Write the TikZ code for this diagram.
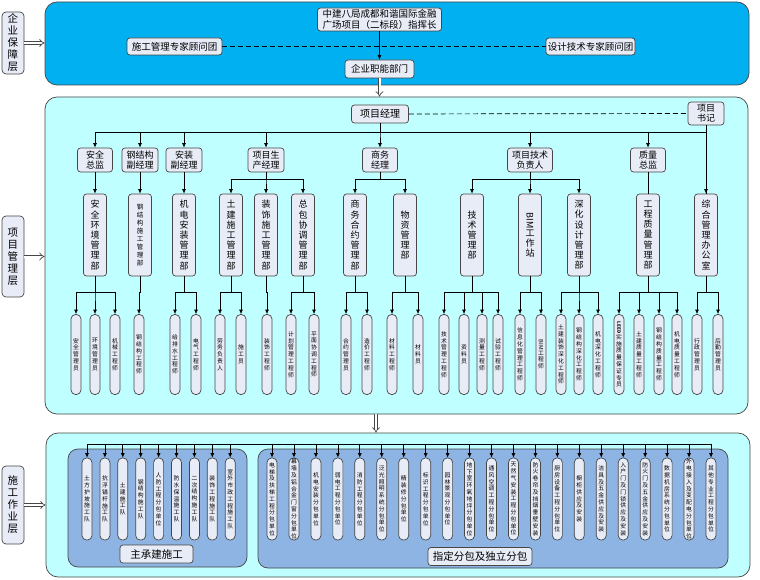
\documentclass[tikz,border=0pt]{standalone}
\usepackage{fontspec}
\setmainfont{Noto Sans CJK SC}
\usepackage{graphicx}
\usetikzlibrary{arrows.meta}
\definecolor{topblue}{RGB}{0,176,240}
\definecolor{midcyan}{RGB}{192,255,255}
\definecolor{grpblue}{RGB}{141,180,226}
\definecolor{boxfill}{RGB}{232,236,247}
\definecolor{edge}{RGB}{70,70,70}
\makeatletter
\newcommand\vtxt[1]{\vbox{\@tfor\vch:=#1\do{\hbox to 1em{\hss\vch\hss}}}}
\makeatother
\newcommand\bimr{\rotatebox{-90}{BIM}}
\newcommand\leedr{\rotatebox{-90}{\fontsize{4.5}{5}\selectfont\bfseries LEED}}
\tikzset{
  box/.style={draw=edge, fill=boxfill, rounded corners=3pt, align=center, inner sep=1.5pt, font=\fontsize{9.5}{10.5}\selectfont},
  mgr/.style={box, minimum width=35pt, minimum height=24pt, inner xsep=4.5pt, font=\fontsize{9}{10.5}\selectfont},
  dept/.style={box, minimum width=23pt, minimum height=82pt, inner sep=0pt, font=\fontsize{9}{10.2}\selectfont},
  pill/.style={box, rounded corners=4.5pt, minimum width=10pt, minimum height=80pt, inner sep=0pt, font=\fontsize{5.8}{6.8}\selectfont},
  layer/.style={draw=edge, fill=boxfill, rounded corners=4pt, minimum width=22pt, inner sep=0pt, font=\fontsize{10.5}{12}\selectfont},
  frame/.style={draw=edge, rounded corners=12pt, inner sep=0pt},
  feed/.style={draw=edge, line width=0.7pt, double=white, double distance=2pt, -{Implies}},
}
\begin{document}
\begin{tikzpicture}[x=1pt,y=-1pt,>={Latex[length=4.5pt,width=4pt]},line width=0.7pt]
\useasboundingbox (0,0) rectangle (760,580);
% layers
\node[frame,fill=topblue,minimum width=704pt,minimum height=83pt] (ent) at (397,43.5) {};
\node[frame,fill=midcyan,minimum width=703pt,minimum height=317pt] (mid) at (396.5,255.5) {};
\node[frame,fill=midcyan,minimum width=704pt,minimum height=144pt] (bot) at (398,505) {};
\node[frame,fill=grpblue,rounded corners=10pt,minimum width=179pt,minimum height=118pt] (main) at (157.5,508) {};
\node[frame,fill=grpblue,rounded corners=10pt,minimum width=470pt,minimum height=119pt] (subs) at (493,508.5) {};
\node[layer,minimum height=62pt] (lab1) at (13,43) {\vtxt{企业保障层}};
\node[layer,minimum height=81pt] (lab2) at (13,256.5) {\vtxt{项目管理层}};
\node[layer,minimum height=78pt] (lab3) at (13,505) {\vtxt{施工作业层}};
\draw[feed] (lab1) -- (lab1 -| ent.west);
\draw[feed] (lab2) -- (lab2 -| mid.west);
\draw[feed] (lab3) -- (lab3 -| bot.west);

% enterprise
\node[box,minimum width=124pt,minimum height=23pt] (cmd) at (379.5,19.5) {中建八局成都和谐国际金融\\广场项目（二标段）指挥长};
\node[box,minimum width=95pt,minimum height=17pt] (adv1) at (174.5,46.5) {施工管理专家顾问团};
\node[box,minimum width=89pt,minimum height=17pt] (adv2) at (590.5,46.5) {设计技术专家顾问团};
\node[box,minimum width=69pt,minimum height=18pt] (fcn) at (379.5,69) {企业职能部门};
\draw[dashed,dash pattern=on 5pt off 3pt] (adv1) -- (adv2);
\draw[->] (cmd) -- (fcn);
\draw[feed] (fcn) -- (fcn.south |- mid.north);

% project
\node[box,minimum width=57pt,minimum height=18pt,font=\fontsize{10}{11}\selectfont] (pm) at (380,114) {项目经理};
\node[box,minimum width=36pt,minimum height=23pt,font=\fontsize{9}{10}\selectfont] (sec) at (706,113.5) {项目\\书记};
\draw[dashed,dash pattern=on 5pt off 3pt] (pm) -- (sec);

\node[mgr] (safe) at (95,160) {安全\\总监};
\node[mgr] (steel) at (140,160) {钢结构\\副经理};
\node[mgr] (inst) at (184,160) {安装\\副经理};
\node[mgr] (prod) at (266,160) {项目生\\产经理};
\node[mgr] (biz) at (380,160) {商务\\经理};
\node[mgr] (tech) at (530,160) {项目技术\\负责人};
\node[mgr] (qual) at (648,160) {质量\\总监};

\foreach \x/\lbl/\n in {95/安全环境管理部/d1,184/机电安装管理部/d3,231/土建施工管理部/d4,
  266/装饰施工管理部/d5,303/总包协调管理部/d6,355/商务合约管理部/d7,405/物资管理部/d8,
  472/技术管理部/d9,530/\bimr 工作站/d10,579/深化设计管理部/d11,648/工程质量管理部/d12,706/综合管理办公室/d13}
  \node[dept] (\n) at (\x,235) {\expandafter\vtxt\expandafter{\lbl}};
\node[dept,font=\fontsize{6.5}{8}\selectfont] (d2) at (140,235) {\vtxt{钢结构施工管理部}};

\foreach \c in {safe,steel,inst,prod,biz,tech,qual,d13}
  \draw[->] (pm.south) -- ++(0,9) -| (\c.north);
\draw (sec) -- (d13);
\draw[->] (safe) -- (d1);
\draw[->] (steel) -- (d2);
\draw[->] (inst) -- (d3);
\draw (qual) -- (d12);
\foreach \p/\c in {prod/d4,prod/d5,prod/d6,biz/d7,biz/d8,tech/d9,tech/d10,tech/d11}
  \draw[->] (\p.south) -- ++(0,7) -| (\c.north);

\foreach \x/\lbl/\n in {76/安全管理员/r1,95/环境管理员/r2,115/机械工程师/r3,139/钢结构工程师/r4,
  175/给排水工程师/r5,196/电气工程师/r6,220/劳务负责人/r7,241/施工员/r8,267/装饰工程师/r9,
  291/计划管理工程师/r10,314/平面协调工程师/r11,346/合约管理员/r12,367/造价工程师/r13,
  392/材料工程师/r14,418/材料员/r15,444/技术管理工程师/r16,464/资料员/r17,482/测量工程师/r18,
  498/试验工程师/r19,520/信息化管理工程师/r20,541/\bimr 工程师/r21,561/土建装饰深化工程师/r22,
  579/钢结构深化工程师/r23,598/机电深化工程师/r24,619/\leedr 实施质量保证专员/r25,
  639/土建质量工程师/r26,659/钢结构质量工程师/r27,677/机电质量工程师/r28,697/行政管理员/r29,718/后勤管理员/r30}
  \node[pill] (\n) at (\x,354.5) {\expandafter\vtxt\expandafter{\lbl}};

\foreach \p/\c in {d1/r1,d1/r2,d1/r3,d2/r4,d3/r5,d3/r6,d4/r7,d4/r8,d5/r9,d6/r10,d6/r11,
  d7/r12,d7/r13,d8/r14,d8/r15,d9/r16,d9/r17,d9/r18,d9/r19,d10/r20,d10/r21,d11/r22,d11/r23,
  d11/r24,d12/r25,d12/r26,d12/r27,d12/r28,d13/r29,d13/r30}
  \draw[->] (\p.south) -- ++(0,16) -| (\c.north);

% site work
\coordinate (bus) at (376,444);
\draw[feed] (bus |- mid.south) -- (bus |- bot.north);
\foreach \lbl [count=\i] in {土方护坡施工队,抗浮锚杆施工队,土建施工队,钢结构施工队,人防工程分包单位,
  防水保温施工队,二次结构施工队,装饰工程施工队,室外市政工程施工队} {
  \node[pill,minimum height=82pt] (m\i) at ({87+17.9*(\i-1)},499) {\expandafter\vtxt\expandafter{\lbl}};
  \draw[->] (bus) -| (m\i.north);
}
\foreach \lbl [count=\i] in {电梯及扶梯工程分包单位,幕墙及铝合金门窗分包单位,机电安装分包单位,
  弱电工程分包单位,消防工程分包单位,泛光照明系统分包单位,精装修分包单位,标识工程分包单位,
  园林景观分包单位,地下室环氧地坪分包单位,通风空调工程分包单位,天然气安装工程分包单位,
  防火卷帘及挡烟垂壁安装,厨房设备工程分包单位,橱柜供应及安装,洁具及五金供应及安装,
  入户门及门锁供应及安装,防火门及五金供应及安装,数据机房系统分包单位,外电接入及变配电分包单位,
  其他专业工程分包单位} {
  \node[pill,minimum height=82pt] (s\i) at ({272+21.95*(\i-1)},499) {\expandafter\vtxt\expandafter{\lbl}};
  \draw[->] (bus) -| (s\i.north);
}
\node[box,minimum width=73pt,minimum height=18pt,font=\fontsize{10.5}{12}\selectfont] (mainlbl) at (156.5,554) {主承建施工};
\node[box,minimum width=104pt,minimum height=18pt,font=\fontsize{10.5}{12}\selectfont] (subslbl) at (480,556.5) {指定分包及独立分包};
\end{tikzpicture}
\end{document}
